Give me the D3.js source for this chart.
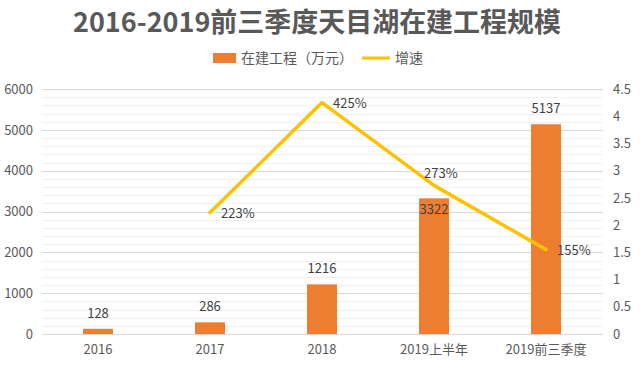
<!DOCTYPE html>
<html>
<head>
<meta charset="utf-8">
<script src="https://cdn.jsdelivr.net/npm/d3@7/dist/d3.min.js"></script>
<style>
  body { margin: 0; background: #fff; }
  text { font-family: "Noto Sans CJK SC", "Noto Sans", sans-serif; }
  .tick text { fill: #595959; font-size: 13px; }
  .lbl { fill: #404040; font-size: 13px; }
</style>
</head>
<body>
<svg width="640" height="369"></svg>
<script>
var categories = ["2016", "2017", "2018", "2019上半年", "2019前三季度"];
var projectValues = [128, 286, 1216, 3322, 5137];
var growthValues = [null, 2.23, 4.25, 2.73, 1.55];
var growthLabels = [null, "223%", "425%", "273%", "155%"];
var leftTicks = [0, 1000, 2000, 3000, 4000, 5000, 6000];
var rightTicks = [0, 0.5, 1, 1.5, 2, 2.5, 3, 3.5, 4, 4.5];

var svg = d3.select("svg");
var orange = "#ED7D31", gold = "#FFC000";

var x = d3.scaleBand().domain(categories).range([42, 602])
  .paddingInner(0.732).paddingOuter(0.366);
var yL = d3.scaleLinear().domain([0, 6000]).range([334, 89]);
var yR = d3.scaleLinear().domain([0, 4.5]).range([334, 89]);

// title
svg.append("text")
  .attr("x", 317).attr("y", 32)
  .attr("text-anchor", "middle")
  .attr("font-size", "27px").attr("font-weight", "bold")
  .attr("fill", "#595959")
  .attr("textLength", 488).attr("lengthAdjust", "spacingAndGlyphs")
  .text("2016-2019前三季度天目湖在建工程规模");

// legend
var lg = svg.append("g");
lg.append("rect").attr("x", 213).attr("y", 53).attr("width", 23).attr("height", 10).attr("fill", orange);
lg.append("text").attr("x", 241).attr("y", 63).attr("font-size", "14px").attr("fill", "#595959").text("在建工程（万元）");
lg.append("line").attr("x1", 362).attr("x2", 390).attr("y1", 58).attr("y2", 58)
  .attr("stroke", gold).attr("stroke-width", 3);
lg.append("text").attr("x", 395).attr("y", 63).attr("font-size", "14px").attr("fill", "#595959").text("增速");

// gridlines
svg.append("g").selectAll("line")
  .data(d3.range(0, 6001, 200))
  .enter().append("line")
  .attr("x1", 42).attr("x2", 603)
  .attr("y1", function(d) { return Math.round(yL(d)) + 0.5; })
  .attr("y2", function(d) { return Math.round(yL(d)) + 0.5; })
  .attr("stroke", function(d) { return d % 1000 === 0 ? "#d9d9d9" : "#f0f0f0"; })
  .attr("stroke-width", 1);

// axes
var gl = svg.append("g").attr("transform", "translate(42,0)")
  .call(d3.axisLeft(yL).tickValues(leftTicks).tickFormat(d3.format("d")).tickSize(0).tickPadding(9));
gl.select(".domain").remove();

var gr = svg.append("g").attr("transform", "translate(603,0)")
  .call(d3.axisRight(yR).tickValues(rightTicks).tickFormat(function(d) { return String(d); }).tickSize(0).tickPadding(10));
gr.select(".domain").remove();

var gx = svg.append("g").attr("transform", "translate(0,334)")
  .call(d3.axisBottom(x).tickSize(0).tickPadding(11));
gx.select(".domain").remove();

// bars
svg.append("g").selectAll("rect")
  .data(projectValues)
  .enter().append("rect")
  .attr("x", function(d, i) { return x(categories[i]); })
  .attr("width", x.bandwidth())
  .attr("y", function(d) { return yL(d); })
  .attr("height", function(d) { return yL(0) - yL(d); })
  .attr("fill", orange);

svg.append("g").selectAll("text")
  .data(projectValues)
  .enter().append("text")
  .attr("class", "lbl")
  .attr("text-anchor", "middle")
  .attr("x", function(d, i) { return x(categories[i]) + x.bandwidth() / 2; })
  .attr("y", function(d, i) { return i === 3 ? yL(d) + 16 : yL(d) - 11; })
  .text(function(d) { return d; });

// growth line
var pts = growthValues.map(function(v, i) { return { c: categories[i], v: v, l: growthLabels[i] }; })
  .filter(function(p) { return p.v !== null; });

var line = d3.line()
  .x(function(p) { return x(p.c) + x.bandwidth() / 2; })
  .y(function(p) { return yR(p.v); });

svg.append("path").datum(pts)
  .attr("d", line)
  .attr("fill", "none")
  .attr("stroke", gold)
  .attr("stroke-width", 3.5)
  .attr("stroke-linejoin", "round")
  .attr("stroke-linecap", "round");

svg.append("g").selectAll("text")
  .data(pts)
  .enter().append("text")
  .attr("class", "lbl")
  .attr("x", function(p, i) { return x(p.c) + x.bandwidth() / 2 + (i === 2 ? -10 : 11); })
  .attr("y", function(p, i) { return yR(p.v) + (i === 2 ? -7 : 5); })
  .text(function(p) { return p.l; });
</script>
</body>
</html>
